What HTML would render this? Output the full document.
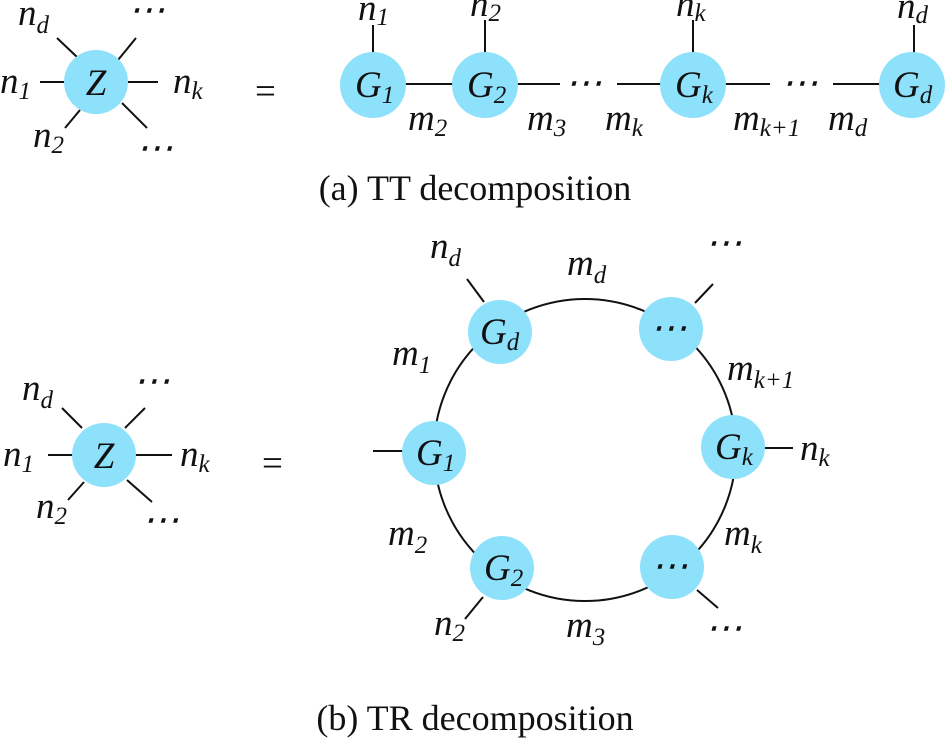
<!DOCTYPE html>
<html><head><meta charset="utf-8"><style>
html,body{margin:0;padding:0;background:#fff;}
svg{display:block}
.t{font-family:"Liberation Serif",serif;font-style:italic;font-size:37px;fill:#111}
.s{font-size:25px}
.c{font-family:"Liberation Serif",serif;font-size:36px;fill:#111}
</style></head><body>
<svg width="945" height="742" viewBox="0 0 945 742" xmlns="http://www.w3.org/2000/svg">
<g stroke="#111" stroke-width="2" fill="none">
<line x1="40" y1="82" x2="64" y2="82"/><line x1="128" y1="82" x2="158" y2="82"/>
<line x1="57" y1="38" x2="77" y2="57"/><line x1="136" y1="38" x2="118" y2="60"/>
<line x1="65" y1="128" x2="80" y2="110"/><line x1="147" y1="128" x2="122" y2="103"/>
<line x1="373" y1="25" x2="373" y2="54"/><line x1="485" y1="20" x2="485" y2="54"/>
<line x1="693" y1="20" x2="693" y2="54"/><line x1="914" y1="25" x2="914" y2="54"/>
<line x1="405" y1="84" x2="455" y2="84"/>
<line x1="517" y1="84" x2="560" y2="84"/><line x1="617" y1="84" x2="662" y2="84"/>
<line x1="725" y1="84" x2="770" y2="84"/><line x1="833" y1="84" x2="880" y2="84"/>
<line x1="48" y1="455" x2="75" y2="455"/><line x1="135" y1="455" x2="172" y2="455"/>
<line x1="62" y1="408" x2="82" y2="428"/><line x1="145" y1="408" x2="125" y2="428"/>
<line x1="68" y1="500" x2="84" y2="482"/><line x1="152" y1="502" x2="127" y2="480"/>
<circle cx="585" cy="450" r="151"/>
<line x1="373" y1="451" x2="405" y2="451"/>
<line x1="762" y1="448" x2="793" y2="448"/>
<line x1="467" y1="279" x2="484" y2="302"/>
<line x1="713" y1="284" x2="695" y2="303"/>
<line x1="465" y1="619" x2="483" y2="597"/>
<line x1="718" y1="608" x2="697" y2="590"/>
</g>
<g fill="#8de1fb">
<circle cx="96" cy="82" r="32"/>
<circle cx="373" cy="85" r="33"/><circle cx="485" cy="85" r="33"/>
<circle cx="693" cy="85" r="33"/><circle cx="912" cy="85" r="33"/>
<circle cx="104" cy="455" r="32"/>
<circle cx="500" cy="332" r="32"/><circle cx="671" cy="329" r="32"/>
<circle cx="434" cy="453" r="32"/><circle cx="733" cy="447" r="32"/>
<circle cx="502" cy="568" r="32"/><circle cx="672" cy="567" r="32"/>
</g>
<g class="t">
<text x="96" y="95" text-anchor="middle">Z</text>
<text x="18" y="25">n<tspan class="s" dy="8">d</tspan></text>
<text x="128" y="22">⋯</text>
<text x="0" y="93">n<tspan class="s" dy="6">1</tspan></text>
<text x="173" y="93">n<tspan class="s" dy="6">k</tspan></text>
<text x="33" y="147">n<tspan class="s" dy="6">2</tspan></text>
<text x="136" y="160">⋯</text>
<text x="255" y="103" style="font-style:normal">=</text>
<text x="355" y="97">G<tspan class="s" dy="6">1</tspan></text>
<text x="467" y="97">G<tspan class="s" dy="6">2</tspan></text>
<text x="675" y="97">G<tspan class="s" dy="6">k</tspan></text>
<text x="893" y="97">G<tspan class="s" dy="6">d</tspan></text>
<text x="358" y="20">n<tspan class="s" dy="5">1</tspan></text>
<text x="470" y="16">n<tspan class="s" dy="5">2</tspan></text>
<text x="676" y="16">n<tspan class="s" dy="5">k</tspan></text>
<text x="897" y="18">n<tspan class="s" dy="5">d</tspan></text>
<text x="565" y="95">⋯</text><text x="781" y="95">⋯</text>
<text x="408" y="130">m<tspan class="s" dy="6">2</tspan></text>
<text x="527" y="130">m<tspan class="s" dy="6">3</tspan></text>
<text x="605" y="130">m<tspan class="s" dy="6">k</tspan></text>
<text x="733" y="130">m<tspan class="s" dy="6">k+1</tspan></text>
<text x="828" y="130">m<tspan class="s" dy="6">d</tspan></text>
<text x="104" y="468" text-anchor="middle">Z</text>
<text x="22" y="400">n<tspan class="s" dy="8">d</tspan></text>
<text x="133" y="393">⋯</text>
<text x="3" y="466">n<tspan class="s" dy="6">1</tspan></text>
<text x="180" y="466">n<tspan class="s" dy="6">k</tspan></text>
<text x="36" y="518">n<tspan class="s" dy="6">2</tspan></text>
<text x="142" y="532">⋯</text>
<text x="262" y="475" style="font-style:normal">=</text>
<text x="480" y="344">G<tspan class="s" dy="6">d</tspan></text>
<text x="416" y="465">G<tspan class="s" dy="6">1</tspan></text>
<text x="715" y="459">G<tspan class="s" dy="6">k</tspan></text>
<text x="484" y="580">G<tspan class="s" dy="6">2</tspan></text>
<text x="650" y="340">⋯</text><text x="651" y="578">⋯</text>
<text x="430" y="258">n<tspan class="s" dy="8">d</tspan></text>
<text x="705" y="255">⋯</text>
<text x="567" y="275">m<tspan class="s" dy="8">d</tspan></text>
<text x="392" y="365">m<tspan class="s" dy="8">1</tspan></text>
<text x="727" y="380">m<tspan class="s" dy="8">k+1</tspan></text>
<text x="800" y="460">n<tspan class="s" dy="6">k</tspan></text>
<text x="388" y="545">m<tspan class="s" dy="8">2</tspan></text>
<text x="724" y="545">m<tspan class="s" dy="8">k</tspan></text>
<text x="434" y="635">n<tspan class="s" dy="6">2</tspan></text>
<text x="566" y="637">m<tspan class="s" dy="8">3</tspan></text>
<text x="705" y="640">⋯</text>
</g>
<text class="c" x="475" y="200" text-anchor="middle">(a) TT decomposition</text>
<text class="c" x="475" y="730" text-anchor="middle">(b) TR decomposition</text>
</svg>
</body></html>
